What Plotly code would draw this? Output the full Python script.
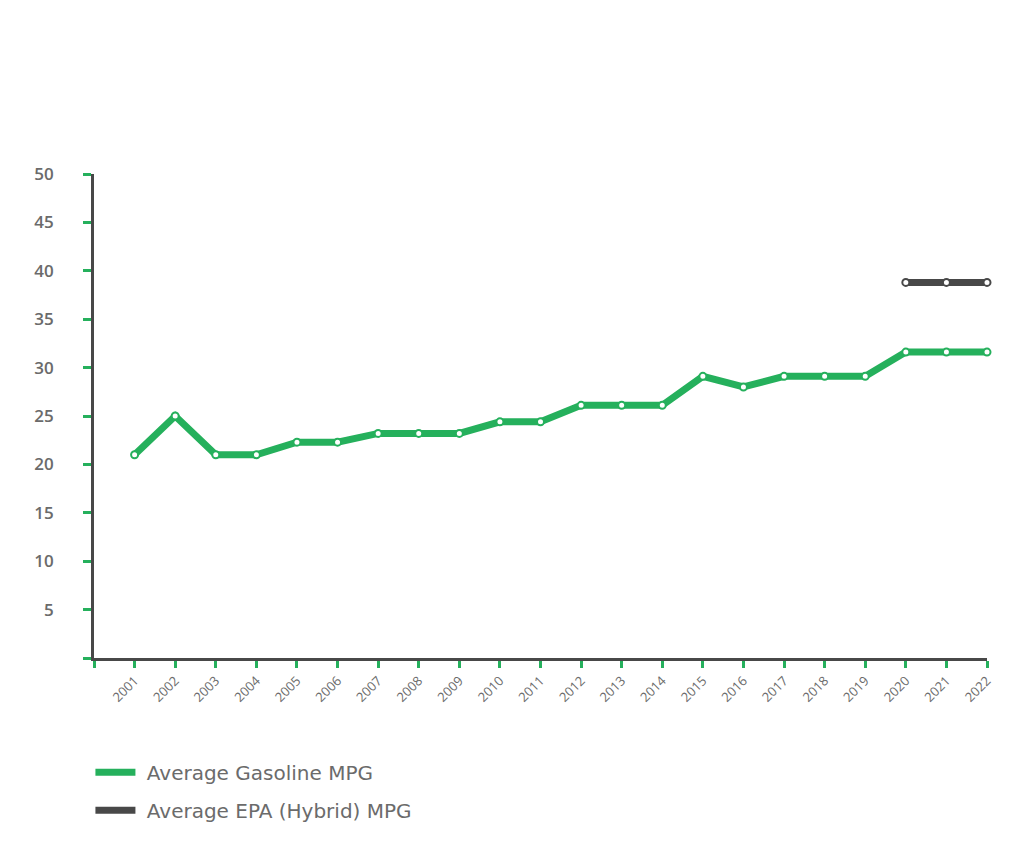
import plotly.graph_objects as go

years = list(range(2001, 2023))
gasoline_mpg = [21, 25, 21, 21, 22.3, 22.3, 23.2, 23.2, 23.2, 24.4, 24.4, 26.1, 26.1, 26.1,
                29.1, 28.0, 29.1, 29.1, 29.1, 31.6, 31.6, 31.6]
hybrid_years = [2020, 2021, 2022]
hybrid_mpg = [38.8, 38.8, 38.8]
y_ticks = list(range(0, 55, 5))
y_ticktext = ["" if v == 0 else str(v) for v in y_ticks]
x_ticks = list(range(2000, 2023))
x_ticktext = ["" if v == 2000 else str(v) for v in x_ticks]

GREEN = "#25B05C"
GRAY = "#484848"
TEXT = "#6b6b6b"
FONT = "Open Sans"
PAD = "\u00a0"

fig = go.Figure()
for name, xs, ys, col in [("Average Gasoline MPG", years, gasoline_mpg, GREEN),
                          ("Average EPA (Hybrid) MPG", hybrid_years, hybrid_mpg, GRAY)]:
    fig.add_trace(go.Scatter(x=xs, y=ys, mode="lines", name=PAD + name, legendgroup=name,
                             line=dict(color=col, width=7), cliponaxis=False))
    fig.add_trace(go.Scatter(x=xs, y=ys, mode="markers", showlegend=False, legendgroup=name,
                             marker=dict(color="white", size=7, line=dict(color=col, width=2)),
                             cliponaxis=False, hoverinfo="skip"))

fig.update_layout(
    width=1024, height=868,
    margin=dict(l=94, r=37, t=174, b=210),
    paper_bgcolor="white", plot_bgcolor="white",
    font=dict(family=FONT, color=TEXT),
    showlegend=True,
    legend=dict(x=-0.004, y=-0.196, xanchor="left", yanchor="top",
                font=dict(size=20, color=TEXT, family="DejaVu Sans"),
                itemwidth=40, tracegroupgap=9, bgcolor="rgba(0,0,0,0)"),
    xaxis=dict(range=[2000, 2022], tickmode="array", tickvals=x_ticks, ticktext=x_ticktext,
               tickangle=-45, tickfont=dict(size=13, color=TEXT),
               showgrid=False, zeroline=False, showline=True, linecolor=GRAY, linewidth=3,
               ticks="outside", tickcolor=GREEN, tickwidth=3, ticklen=7),
    yaxis=dict(range=[0, 50], tickmode="array", tickvals=y_ticks, ticktext=y_ticktext,
               tickfont=dict(size=17, color=TEXT, family=FONT + " SemiBold, " + FONT),
               showgrid=False, zeroline=False, showline=True, linecolor=GRAY, linewidth=3,
               ticks="outside", tickcolor=GREEN, tickwidth=3, ticklen=8,
               ticklabelstandoff=26),
)

fig.write_html("out.html")
